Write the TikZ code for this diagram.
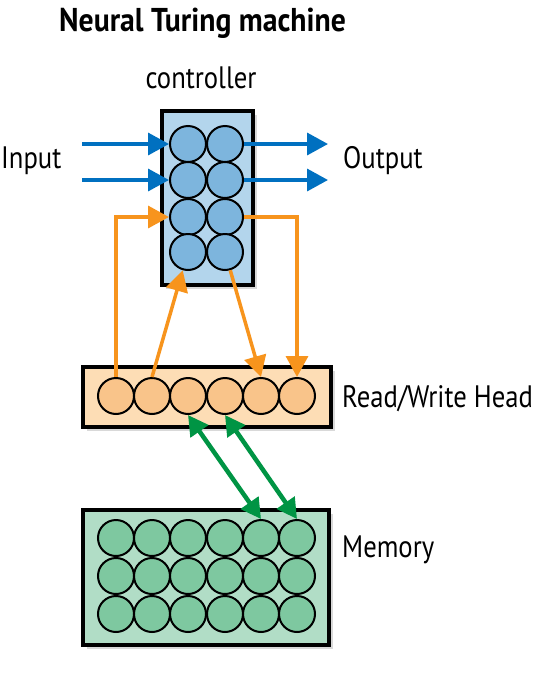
\documentclass[tikz,border=0pt]{standalone}
\usepackage{fontspec}
\setmainfont[FakeStretch=0.86, BoldFeatures={FakeStretch=0.9}]{PT Sans}
\usetikzlibrary{arrows.meta,shadows}
\definecolor{ctlbox}{HTML}{B3D5EC}
\definecolor{ctlcirc}{HTML}{7DB5DD}
\definecolor{blueA}{HTML}{0070C0}
\definecolor{orangeA}{HTML}{F7941D}
\definecolor{rwbox}{HTML}{FDDDB5}
\definecolor{rwcirc}{HTML}{F9C48A}
\definecolor{membox}{HTML}{B1DDC6}
\definecolor{memcirc}{HTML}{7EC8A0}
\definecolor{greenA}{HTML}{009444}
\tikzset{
  panel/.style={draw=black, line width=4pt, drop shadow={opacity=0.3, shadow xshift=4pt, shadow yshift=-4pt}},
  cell/.style={circle, draw=black, line width=2pt, minimum size=36pt, inner sep=0pt},
  lbl/.style={font=\fontsize{31}{31}\selectfont, anchor=base west, inner sep=0pt},
  bigtip/.style={Triangle[length=21pt,width=22pt]},
  barrow/.style={draw=blueA, line width=3.5pt, -{Triangle[length=21pt,width=22pt]}},
  oarrow/.style={draw=orangeA, line width=3.5pt, -{Triangle[length=21pt,width=22pt]}},
  garrow/.style={draw=greenA, line width=4.5pt, {Triangle[length=20pt,width=21pt]}-{Triangle[length=20pt,width=21pt]}}
}
\begin{document}
\begin{tikzpicture}[x=1pt,y=-1pt]
\useasboundingbox (0,0) rectangle (536,673);
% title
\node[font=\bfseries\fontsize{33}{33}\selectfont, anchor=base west, inner sep=0pt] (title) at (59,31) {Neural Turing machine};
\node[lbl, anchor=base] (ctltxt) at (201,88) {controller};
% panels
\path[panel, fill=ctlbox] (162,111) rectangle (253,285);
\path[panel, fill=rwbox] (83,367) rectangle (331,427);
\path[panel, fill=membox] (83,510) rectangle (329,645);
% controller cells
\foreach \r/\y in {1/144,2/180,3/217,4/252}{
  \node[cell, fill=ctlcirc] (c\r1) at (188,\y) {};
  \node[cell, fill=ctlcirc] (c\r2) at (225,\y) {};
}
% read/write cells
\foreach \i/\x in {1/116,2/152,3/188,4/225,5/261,6/297}{
  \node[cell, fill=rwcirc] (r\i) at (\x,396) {};
}
% memory cells
\foreach \r/\y in {1/538,2/576,3/614}{
  \foreach \i/\x in {1/116,2/152,3/188,4/225,5/261,6/297}{
    \node[cell, fill=memcirc] (m\r\i) at (\x,\y) {};
  }
}
% labels
\node[lbl] (inp) at (1,168) {Input};
\node[lbl] (outp) at (343,168) {Output};
\node[lbl] (rwl) at (342,407) {Read/Write Head};
\node[lbl] (meml) at (342,557) {Memory};
% blue arrows
\coordinate (in1) at (82,144);
\coordinate (in2) at (82,180);
\coordinate (out1) at (328,144);
\coordinate (out2) at (328,180);
\draw[barrow] (in1) -- (c11.west);
\draw[barrow] (in2) -- (c21.west);
\draw[barrow] (c12.east) -- (out1);
\draw[barrow] (c22.east) -- (out2);
% orange arrows
\draw[oarrow] (r1.north) |- (c31.west);
\draw[oarrow] (r2.north) -- (c41);
\draw[oarrow] (c42) -- (r5.north);
\draw[oarrow] (c32.east) -| (r6.north);
% green arrows
\draw[garrow] (r3.south) -- (m15.north);
\draw[garrow] (r4.south) -- (m16.north);
\end{tikzpicture}
\end{document}
